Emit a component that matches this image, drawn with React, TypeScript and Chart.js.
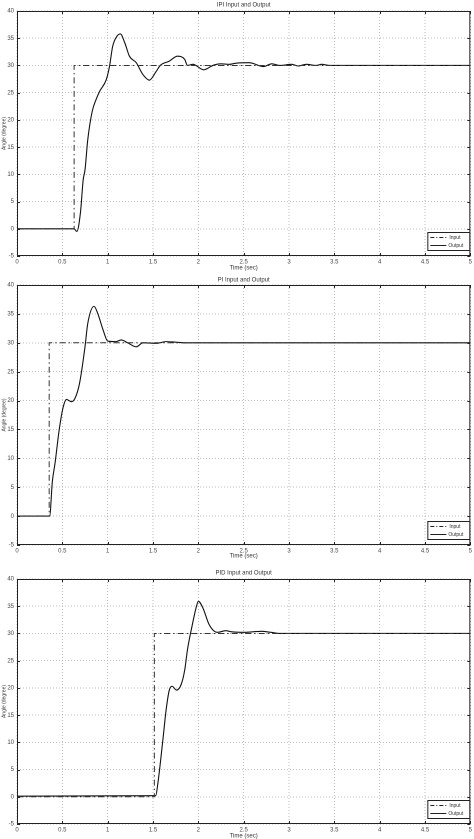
import React, { useEffect, useRef } from 'react';
import { Chart, registerables } from 'chart.js';

Chart.register(...registerables);

// time axis (sec) and angle axis (degree)
const xTicks = [0, 0.5, 1, 1.5, 2, 2.5, 3, 3.5, 4, 4.5, 5];
const yTicks = [-5, 0, 5, 10, 15, 20, 25, 30, 35, 40];

// P controller
const pInputT = [0, 0.63, 0.63, 5];
const pInputV = [0, 0, 30, 30];
const pOutputT = [0, 0.63, 0.66, 0.7, 0.73, 0.75, 0.78, 0.83, 0.876, 0.91, 0.985, 1.02, 1.055, 1.1, 1.14, 1.19, 1.24, 1.315, 1.39, 1.46, 1.535, 1.58, 1.68, 1.77, 1.85, 1.88, 1.94, 2.06, 2.16, 2.25, 2.34, 2.41, 2.56, 2.72, 2.81, 2.9, 3.03, 3.1, 3.19, 3.3, 3.36, 3.45, 5];
const pOutputV = [0, 0, -0.5, 3, 9, 10.8, 16.3, 21.6, 23.9, 25.2, 27.4, 29.8, 33.5, 35.3, 35.8, 34.1, 31.7, 30.5, 28.3, 27.3, 28.9, 30.0, 30.8, 31.7, 31.1, 30.0, 30.2, 29.2, 30.0, 30.3, 30.2, 30.4, 30.5, 29.8, 30.3, 30.0, 30.2, 29.9, 30.2, 30.0, 30.2, 30, 30];

// PI controller
const piInputT = [0, 0.355, 0.355, 5];
const piInputV = [0, 0, 30, 30];
const piOutputT = [0, 0.36, 0.39, 0.42, 0.465, 0.51, 0.546, 0.6, 0.64, 0.69, 0.75, 0.78, 0.85, 0.89, 0.95, 1.0, 1.09, 1.15, 1.22, 1.315, 1.39, 1.54, 1.64, 1.75, 1.85, 5];
const piOutputV = [0, 0, 6, 9.2, 14.9, 18.9, 20.2, 19.8, 20.4, 23, 29.3, 33.3, 36.3, 35.1, 32.2, 30.3, 30.2, 30.5, 30.0, 29.3, 30.0, 29.9, 30.2, 30.1, 30, 30];

// PID controller
const pidInputT = [0, 1.515, 1.515, 5];
const pidInputV = [0, 0, 30, 30];
const pidOutputT = [0, 1.53, 1.55, 1.61, 1.645, 1.68, 1.71, 1.76, 1.81, 1.85, 1.88, 1.93, 1.975, 2.0, 2.05, 2.12, 2.21, 2.3, 2.37, 2.5, 2.6, 2.7, 2.8, 2.9, 5];
const pidOutputV = [0.1, 0.2, 2, 10.6, 16, 19.6, 20.3, 19.6, 20.6, 23.3, 27, 31.3, 34.7, 35.9, 34.7, 31.6, 30.2, 30.5, 30.3, 30.2, 30.3, 30.4, 30.2, 30, 30];

const FONT = "'Liberation Sans', Arial, sans-serif";

type PlotProps = {
  title: string;
  inT: number[];
  inV: number[];
  outT: number[];
  outV: number[];
  top: number;
  height: number;
  padTop: number;
  axisH: number;
  titleY: number;
  xlabelY: number;
};

const toPts = (t: number[], v: number[]) => t.map((x, i) => ({ x, y: v[i] }));

function Plot(props: PlotProps) {
  const canvasRef = useRef<HTMLCanvasElement>(null);

  useEffect(() => {
    if (!canvasRef.current) return;

    // frame, inward ticks, legend and labels like matlab
    const decor = {
      id: 'decor',
      afterDraw(chart: any) {
        const { ctx, chartArea: a, scales } = chart;
        ctx.save();
        ctx.strokeStyle = '#222';
        ctx.lineWidth = 1;
        ctx.strokeRect(a.left + 0.5, a.top + 0.5, a.right - a.left - 1, a.bottom - a.top - 1);
        ctx.beginPath();
        xTicks.forEach((t) => {
          const x = Math.round(scales.x.getPixelForValue(t)) + 0.5;
          ctx.moveTo(x, a.top); ctx.lineTo(x, a.top + 3);
          ctx.moveTo(x, a.bottom); ctx.lineTo(x, a.bottom - 3);
        });
        yTicks.forEach((v) => {
          const y = Math.round(scales.y.getPixelForValue(v)) + 0.5;
          ctx.moveTo(a.left, y); ctx.lineTo(a.left + 3, y);
          ctx.moveTo(a.right, y); ctx.lineTo(a.right - 3, y);
        });
        ctx.stroke();

        // legend box
        const bw = 42, bh = 18;
        const bx = a.right - bw - 1, by = a.bottom - bh - 6;
        ctx.fillStyle = '#fff';
        ctx.fillRect(bx, by, bw, bh);
        ctx.strokeRect(bx + 0.5, by + 0.5, bw, bh);
        ctx.beginPath();
        ctx.setLineDash([4, 2, 1, 2]);
        ctx.moveTo(bx + 3, by + 5.5); ctx.lineTo(bx + 19, by + 5.5);
        ctx.stroke();
        ctx.setLineDash([]);
        ctx.beginPath();
        ctx.moveTo(bx + 3, by + 13.5); ctx.lineTo(bx + 19, by + 13.5);
        ctx.stroke();
        ctx.fillStyle = '#333';
        ctx.font = `5px ${FONT}`;
        ctx.textAlign = 'left';
        ctx.textBaseline = 'middle';
        ctx.fillText('Input', bx + 22, by + 5.5);
        ctx.fillText('Output', bx + 21, by + 13.5);

        // title and axis labels
        const cx = (a.left + a.right) / 2;
        ctx.textAlign = 'center';
        ctx.font = `6px ${FONT}`;
        ctx.fillText(props.title, cx, props.titleY);
        ctx.fillText('Time (sec)', cx, props.xlabelY);
        ctx.translate(4, (a.top + a.bottom) / 2);
        ctx.rotate(-Math.PI / 2);
        ctx.font = `5px ${FONT}`;
        ctx.fillText('Angle (degree)', 0, 0);
        ctx.restore();
      },
    };

    const tickFont = { family: FONT, size: 6 };
    const chart = new Chart(canvasRef.current, {
      type: 'scatter',
      data: {
        datasets: [
          {
            label: 'Input',
            data: toPts(props.inT, props.inV),
            showLine: true,
            borderColor: '#333',
            borderWidth: 1,
            borderDash: [6, 3, 1.5, 3],
            pointRadius: 0,
            tension: 0,
          },
          {
            label: 'Output',
            data: toPts(props.outT, props.outV),
            showLine: true,
            borderColor: '#111',
            borderWidth: 1.1,
            pointRadius: 0,
            cubicInterpolationMode: 'monotone',
          },
        ],
      },
      options: {
        animation: false,
        responsive: false,
        devicePixelRatio: 2,
        layout: { padding: { top: props.padTop, right: 2, left: 0, bottom: 0 } },
        plugins: { legend: { display: false }, tooltip: { enabled: false } },
        scales: {
          x: {
            type: 'linear',
            min: 0,
            max: 5,
            afterBuildTicks: (s: any) => { s.ticks = xTicks.map((value) => ({ value })); },
            afterFit: (s: any) => { s.height = props.axisH; },
            ticks: { font: tickFont, color: '#444', padding: 2, maxRotation: 0, autoSkip: false, callback: (v: any) => String(v) },
            grid: { color: '#aaa', lineWidth: 0.8, drawTicks: false },
            border: { display: false, dash: [1, 2] },
          },
          y: {
            min: -5,
            max: 40,
            afterBuildTicks: (s: any) => { s.ticks = yTicks.map((value) => ({ value })); },
            afterFit: (s: any) => { s.width = 17; },
            ticks: { font: tickFont, color: '#444', padding: 3, callback: (v: any) => String(v) },
            grid: { color: '#aaa', lineWidth: 0.8, drawTicks: false },
            border: { display: false, dash: [1, 2] },
          },
        },
      },
      plugins: [decor],
    } as any);

    return () => {
      chart.destroy();
    };
  }, []);

  return (
    <canvas
      ref={canvasRef}
      width={474}
      height={props.height}
      style={{ position: 'absolute', left: 0, top: props.top, width: 474, height: props.height }}
    />
  );
}

export default function App() {
  return (
    <div style={{ position: 'absolute', left: 0, top: 0, width: 474, height: 839, background: '#fff' }}>
      <Plot title="IPI Input and Output" inT={pInputT} inV={pInputV} outT={pOutputT} outV={pOutputV}
        top={0} height={275} padTop={11} axisH={19} titleY={5} xlabelY={268} />
      <Plot title="PI Input and Output" inT={piInputT} inV={piInputV} outT={piOutputT} outV={piOutputV}
        top={275} height={290} padTop={10} axisH={20} titleY={5} xlabelY={281} />
      <Plot title="PID Input and Output" inT={pidInputT} inV={pidInputV} outT={pidOutputT} outV={pidOutputV}
        top={565} height={274} padTop={14} axisH={15} titleY={8} xlabelY={271} />
    </div>
  );
}
